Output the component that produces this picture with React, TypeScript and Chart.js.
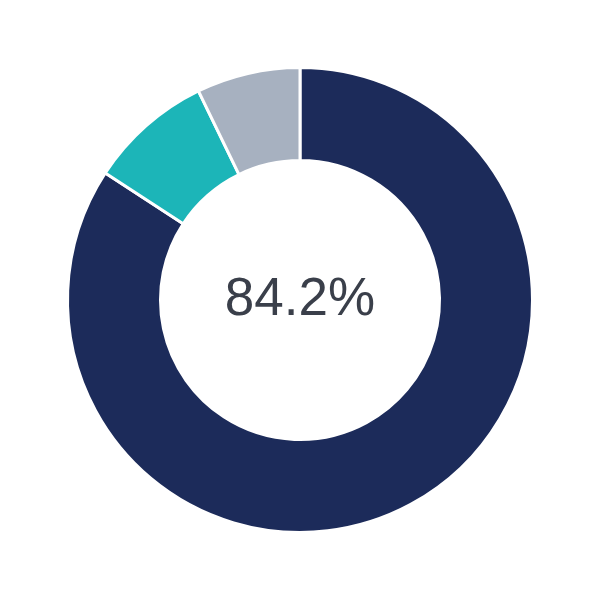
import React, { useEffect, useRef } from "react";
import { Chart, registerables } from "chart.js";

Chart.register(...registerables);

const categories = ["Primary", "Secondary", "Other"];
const values = [84.2, 8.6, 7.2];
const colors = ["#1c2b5a", "#1cb5b8", "#a7b1c0"];
const centerLabel = "84.2%";

const centerTextPlugin = {
  id: "centerText",
  afterDraw(chart: any) {
    const meta = chart.getDatasetMeta(0);
    if (!meta || !meta.data.length) return;
    const { x, y } = meta.data[0];
    const ctx = chart.ctx;
    ctx.save();
    ctx.font = "53px 'Liberation Sans'";
    ctx.fillStyle = "#3a3f4a";
    ctx.textAlign = "center";
    ctx.textBaseline = "middle";
    ctx.fillText(centerLabel, x, y);
    ctx.restore();
  },
};

export default function App() {
  const ref = useRef<HTMLCanvasElement>(null);
  useEffect(() => {
    if (!ref.current) return;
    const chart = new Chart(ref.current, {
      type: "doughnut",
      data: {
        labels: categories,
        datasets: [
          {
            data: values,
            backgroundColor: colors,
            borderColor: "#ffffff",
            borderWidth: 3,
          },
        ],
      },
      options: {
        animation: false,
        responsive: true,
        maintainAspectRatio: false,
        cutout: "60%",
        layout: { padding: 66 },
        plugins: {
          legend: { display: false },
          tooltip: { enabled: false },
        },
      },
      plugins: [centerTextPlugin],
    });
    return () => chart.destroy();
  }, []);
  return (
    <div style={{ position: "fixed", left: 0, top: 0, width: 600, height: 600, background: "#fff" }}>
      <canvas ref={ref} />
    </div>
  );
}
